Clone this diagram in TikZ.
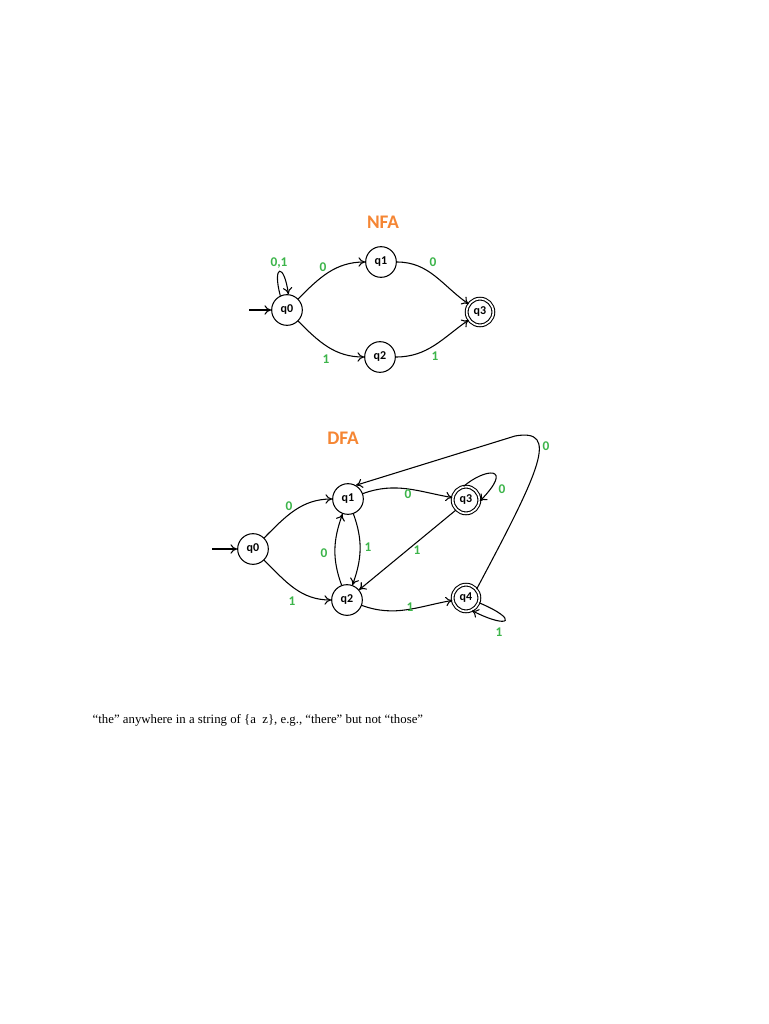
\documentclass[tikz,border=0pt]{standalone}
\usepackage{fontspec}
\setmainfont{Liberation Serif}
\newfontfamily\lblfont{Carlito}
\usetikzlibrary{arrows.meta}
\definecolor{lgreen}{HTML}{3CB44A}
\definecolor{torange}{HTML}{F58634}
\begin{document}
\begin{tikzpicture}[x=0.75pt,y=-0.75pt,
  st/.style={circle,draw,line width=0.8pt,minimum size=23pt,inner sep=0pt,font=\lblfont\bfseries\small},
  acc/.style={st,double,double distance=1.3pt,minimum size=20pt},
  ed/.style={line width=0.8pt,-{To[length=5pt,width=7pt]}},
  lb/.style={text=lgreen,font=\lblfont\bfseries\normalsize},
  ttl/.style={text=torange,font=\lblfont\bfseries\Large}]
\useasboundingbox (0,0) rectangle (768,1024);
% NFA
\node[ttl] (tn) at (383,222) {NFA};
\node[st] (a0) at (287,310) {q0};
\node[st] (a1) at (381,262) {q1};
\node[st] (a2) at (380,357) {q2};
\node[acc] (a3) at (480,312) {q3};
\coordinate (ai) at (249,310);
\draw[ed] (ai) -- (a0);
\draw[ed] (a0.115) .. controls (272,265) and (284,262) .. (a0.85);
\draw[ed] (a0) to[out=45,in=180] (a1);
\draw[ed] (a0) to[out=-45,in=180] (a2);
\draw[ed] (a1) to[out=0,in=145] (a3);
\draw[ed] (a2) to[out=0,in=-145] (a3);
\node[lb] (n1) at (279,263) {0,1};
\node[lb] (n2) at (323,267) {0};
\node[lb] (n3) at (433,262) {0};
\node[lb] (n4) at (326,359) {1};
\node[lb] (n5) at (435,356) {1};
% DFA
\node[ttl] (td) at (343,438) {DFA};
\node[st] (b0) at (253,549) {q0};
\node[st] (b1) at (348,499) {q1};
\node[st] (b2) at (347,600) {q2};
\node[acc] (b3) at (466,500) {q3};
\node[acc] (b4) at (466,598) {q4};
\coordinate (bi) at (212,549);
\draw[ed] (bi) -- (b0);
\draw[ed] (b0) to[out=45,in=180] (b1);
\draw[ed] (b0) to[out=-45,in=180] (b2);
\draw[ed] (b1) to[out=20,in=170] (b3);
\draw[ed] (b2) to[out=-20,in=190] (b4);
\draw[ed] (b1) to[out=-70,in=70] (b2);
\draw[ed] (b2) to[out=110,in=-110] (b1);
\draw[ed] (b3.225) -- (b2.40);
\draw[ed] (b3.100) .. controls (485,468) and (515,465) .. (b3.-5);
\draw[ed] (b4.-20) .. controls (520,620) and (510,630) .. (b4.-65);
\draw[ed] (b4.40) .. controls (540,470) and (560,428) .. (515,436) -- (b1.60);
\node[lb] (m1) at (289,506) {0};
\node[lb] (m2) at (292,601) {1};
\node[lb] (m3) at (324,553) {0};
\node[lb] (m4) at (368,547) {1};
\node[lb] (m5) at (408,494) {0};
\node[lb] (m6) at (417,550) {1};
\node[lb] (m7) at (410,607) {1};
\node[lb] (m8) at (502,489) {0};
\node[lb] (m9) at (499,632) {1};
\node[lb] (m10) at (546,446) {0};
\node[font=\fontsize{9.6}{11}\selectfont,anchor=west] (cap) at (88,720) {``the'' anywhere in a string of \{a\ \ z\}, e.g., ``there'' but not ``those''};
\end{tikzpicture}
\end{document}
